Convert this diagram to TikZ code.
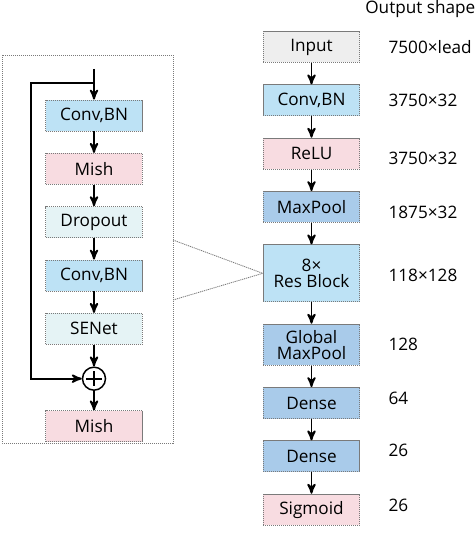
\documentclass[tikz,border=0pt]{standalone}
\usepackage{fontspec}
\setmainfont{Open Sans}
\usetikzlibrary{arrows,positioning}
\definecolor{ingray}{HTML}{EEEEEE}
\definecolor{convblue}{HTML}{BDE2F5}
\definecolor{actpink}{HTML}{F8DCE1}
\definecolor{poolblue}{HTML}{A9CBEA}
\definecolor{paleblue}{HTML}{E5F3F5}
\definecolor{dotgray}{HTML}{7A7A7A}
\tikzset{
    %Define standard arrow tip
    >=stealth',
    flow/.style={line width=1.1pt},
    layer/.style={
      rectangle,
      draw=dotgray, line width=0.5pt,
      dash pattern=on 0.7pt off 0.5pt,
      minimum width=58pt,
      minimum height=18.6pt,
      inner sep=1pt,
      align=center,
      font=\fontsize{10.3}{9.5}\selectfont},
    inlayer/.style={layer, fill=ingray},
    convlayer/.style={layer, fill=convblue},
    actlayer/.style={layer, fill=actpink},
    poollayer/.style={layer, fill=poolblue},
    palelayer/.style={layer, fill=paleblue},
    shp/.style={
      inner sep=0pt,
      font=\fontsize{10.3}{12}\selectfont},
    zoomline/.style={
      draw=dotgray, line width=0.5pt,
      dash pattern=on 0.7pt off 0.5pt},
}
\begin{document}
\begin{tikzpicture}[x=0.6pt, y=-0.6pt, node distance=12.9pt]
    \useasboundingbox (0,0) rectangle (474,540);
    % main network
    \node (inp) [inlayer] at (311.5,47) {Input};
    \node (conv) [convlayer, below=of inp] {Conv,BN};
    \node (relu) [actlayer, below=of conv] {ReLU};
    \node (pool) [poollayer, below=of relu] {MaxPool};
    \node (res) [convlayer, below=of pool, minimum height=34.2pt] {8×\\Res Block};
    \node (gpool) [poollayer, below=of res, minimum height=24.6pt] {Global\\MaxPool};
    \node (dense1) [poollayer, below=of gpool] {Dense};
    \node (dense2) [poollayer, below=of dense1] {Dense};
    \node (sig) [actlayer, below=of dense2] {Sigmoid};
    \foreach \a/\b in {inp/conv, conv/relu, relu/pool, pool/res,
                       res/gpool, gpool/dense1, dense1/dense2, dense2/sig}
      \draw [->, flow] (\a) -- (\b);
    % output shapes
    \node (title) [shp, anchor=west] at (365,9) {Output shape};
    \node (s0) [shp, anchor=west, right=16.8pt of inp] {7500×lead};
    \node (s1) [shp, anchor=west, right=16.8pt of conv] {3750×32};
    \node (s2) [shp, anchor=west, right=16.8pt of relu, yshift=-3pt] {3750×32};
    \node (s3) [shp, anchor=west, right=16.8pt of pool, yshift=-3pt] {1875×32};
    \node (s4) [shp, anchor=west, right=16.8pt of res, yshift=-1.5pt] {118×128};
    \node (s5) [shp, anchor=west, right=16.8pt of gpool] {128};
    \node (s6) [shp, anchor=west, right=16.8pt of dense1, yshift=2.5pt] {64};
    \node (s7) [shp, anchor=west, right=16.8pt of dense2, yshift=3.5pt] {26};
    \node (s8) [shp, anchor=west, right=16.8pt of sig, yshift=2.5pt] {26};
    % residual block
    \draw [zoomline] (2,55) rectangle (173,443);
    \coordinate (za) at (173,240);
    \coordinate (zb) at (173,300);
    \draw [zoomline] (za) -- (res.west) -- (zb);
    \coordinate (top) at (94,69);
    \coordinate (br) at (94,83);
    \node (rc1) [convlayer] at (94,115.5) {Conv,BN};
    \node (rm1) [actlayer, below=of rc1] {Mish};
    \node (rdrop) [palelayer, below=of rm1] {Dropout};
    \node (rc2) [convlayer, below=of rdrop] {Conv,BN};
    \node (rse) [palelayer, below=of rc2] {SENet};
    \node (add) [circle, draw, line width=0.9pt, minimum size=13.8pt, inner sep=0pt,
                 below=13pt of rse] {};
    \draw [line width=1.1pt] ([yshift=4.6pt]add.center) -- ([yshift=-4.6pt]add.center)
                             ([xshift=-4.6pt]add.center) -- ([xshift=4.6pt]add.center);
    \node (rm2) [actlayer, below=11.7pt of add] {Mish};
    \draw [->, flow] (top) -- (rc1);
    \foreach \a/\b in {rc1/rm1, rm1/rdrop, rdrop/rc2, rc2/rse, rse/add, add/rm2}
      \draw [->, flow] (\a) -- (\b);
    \draw [->, flow] (br) -- ++(-63,0) |- (add.west);
\end{tikzpicture}
\end{document}
